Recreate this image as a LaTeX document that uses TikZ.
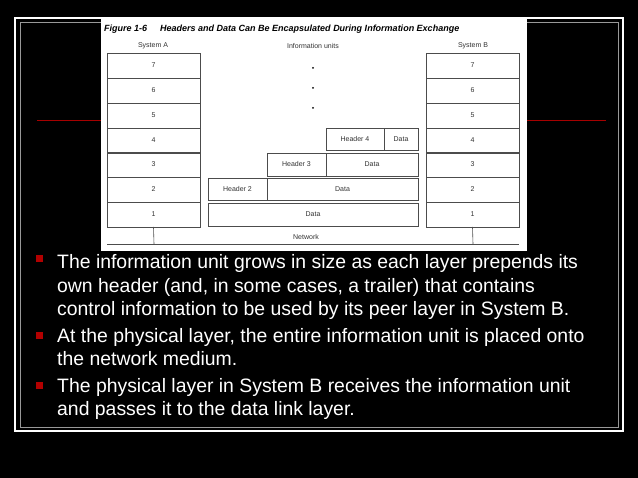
\documentclass[tikz,border=0pt]{standalone}
\usepackage{fontspec}
\setmainfont{Liberation Sans}
\begin{document}
\begin{tikzpicture}[x=1pt,y=-1pt,
  cell/.style={draw=black!70,line width=0.6pt},
  lbl/.style={font=\fontsize{7}{8}\selectfont,text=black!80,inner sep=0pt},
  body/.style={font=\fontsize{19.4}{22}\selectfont,text=white,anchor=base west,inner sep=0pt},
  bul/.style={fill=red!70!black,minimum size=7pt,inner sep=0pt}]
\fill[black] (0,0) rectangle (638,478);
\useasboundingbox (0,0) rectangle (638,478);
\draw[white,line width=2pt] (15,18) rectangle (623,431);
\draw[gray!80,line width=0.5pt] (20,22) rectangle (618,427);
\draw[red!65!black,line width=0.8pt] (37,120) -- (606,120);
\fill[white] (101,19) rectangle (527,251);
\node[font=\bfseries\itshape\fontsize{9}{10}\selectfont,anchor=west,inner sep=0pt] (title) at (104,29) {Figure 1-6\quad\, Headers and Data Can Be Encapsulated During Information Exchange};
\node[lbl] (sa) at (153,46) {System A};
\node[lbl] (iu) at (313,46) {Information units};
\node[lbl] (sb) at (473,46) {System B};
\foreach \i/\y in {7/53,6/78,5/103,4/128,3/152,2/177,1/202}{
  \draw[cell] (107,\y) rectangle node[lbl] (a\i) {\i} (200,\y+25);
  \draw[cell] (426,\y) rectangle node[lbl] (b\i) {\i} (519,\y+25);
}
\foreach \y/\n in {68/d1,88/d2,108/d3}{\fill (313,\y) circle (1) coordinate (\n);}
\draw[cell] (326,128) rectangle node[lbl] (h4) {Header 4} (384,150);
\draw[cell] (384,128) rectangle node[lbl] (dd4) {Data} (418,150);
\draw[cell] (267,153) rectangle node[lbl] (h3) {Header 3} (326,176);
\draw[cell] (326,153) rectangle node[lbl] (dd3) {Data} (418,176);
\draw[cell] (208,178) rectangle node[lbl] (h2) {Header 2} (267,200);
\draw[cell] (267,178) rectangle node[lbl] (dd2) {Data} (418,200);
\draw[cell] (208,203) rectangle node[lbl] (dd1) {Data} (418,226);
\coordinate (na) at (154,244); \coordinate (nb) at (473,244);
\draw[cell] (a1.center |- 0,227) -- (na);
\draw[cell] (b1.center |- 0,227) -- (nb);
\draw[cell] (107,244) -- (519,244);
\node[lbl] (net) at (306,237) {Network};
\foreach \y in {259,336,386}{\node[bul] at (39,\y) {};}
\node[body] (t1) at (57,269) {The information unit grows in size as each layer prepends its};
\node[body] (t2) at (57,293) {own header (and, in some cases, a trailer) that contains};
\node[body] (t3) at (57,316) {control information to be used by its peer layer in System B.};
\node[body] (t4) at (57,343) {At the physical layer, the entire information unit is placed onto};
\node[body] (t5) at (57,366) {the network medium.};
\node[body] (t6) at (57,393) {The physical layer in System B receives the information unit};
\node[body] (t7) at (57,416) {and passes it to the data link layer.};
\end{tikzpicture}
\end{document}
